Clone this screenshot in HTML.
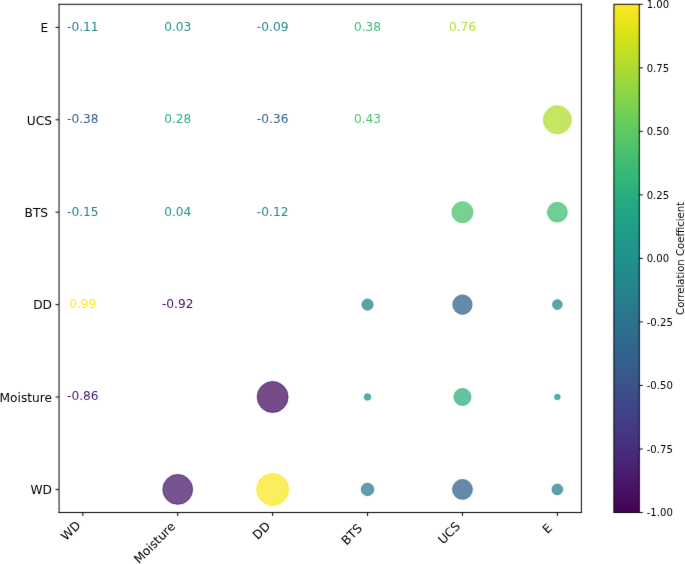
<!DOCTYPE html>
<html><head><meta charset="utf-8"><title>Correlation plot</title>
<style>html,body{margin:0;padding:0;background:#fff;}svg{display:block;}text{font-family:"DejaVu Sans","Liberation Sans",sans-serif;}</style>
</head><body>
<svg width="685" height="564" viewBox="0 0 685 564">
<defs><linearGradient id="g" x1="0" y1="1" x2="0" y2="0"><stop offset="0.0000" stop-color="#440154"/><stop offset="0.0312" stop-color="#470d60"/><stop offset="0.0625" stop-color="#48186a"/><stop offset="0.0938" stop-color="#482374"/><stop offset="0.1250" stop-color="#472d7b"/><stop offset="0.1562" stop-color="#453781"/><stop offset="0.1875" stop-color="#424086"/><stop offset="0.2188" stop-color="#3e4989"/><stop offset="0.2500" stop-color="#3b528b"/><stop offset="0.2812" stop-color="#375b8d"/><stop offset="0.3125" stop-color="#33638d"/><stop offset="0.3438" stop-color="#2f6b8e"/><stop offset="0.3750" stop-color="#2c728e"/><stop offset="0.4062" stop-color="#297a8e"/><stop offset="0.4375" stop-color="#26828e"/><stop offset="0.4688" stop-color="#23898e"/><stop offset="0.5000" stop-color="#21918c"/><stop offset="0.5312" stop-color="#1f988b"/><stop offset="0.5625" stop-color="#1fa088"/><stop offset="0.5938" stop-color="#22a785"/><stop offset="0.6250" stop-color="#28ae80"/><stop offset="0.6562" stop-color="#32b67a"/><stop offset="0.6875" stop-color="#3fbc73"/><stop offset="0.7188" stop-color="#4ec36b"/><stop offset="0.7500" stop-color="#5ec962"/><stop offset="0.7812" stop-color="#70cf57"/><stop offset="0.8125" stop-color="#84d44b"/><stop offset="0.8438" stop-color="#98d83e"/><stop offset="0.8750" stop-color="#addc30"/><stop offset="0.9062" stop-color="#c2df23"/><stop offset="0.9375" stop-color="#d8e219"/><stop offset="0.9688" stop-color="#ece51b"/><stop offset="1.0000" stop-color="#fde725"/></linearGradient></defs>
<filter id="bl" x="0" y="0" width="685" height="564" filterUnits="userSpaceOnUse" color-interpolation-filters="sRGB"><feConvolveMatrix order="3" kernelMatrix="0.01134 0.08382 0.01134 0.08382 0.61935 0.08382 0.01134 0.08382 0.01134" edgeMode="duplicate"/></filter><filter id="blt" x="0" y="0" width="685" height="564" filterUnits="userSpaceOnUse" color-interpolation-filters="sRGB"><feConvolveMatrix order="3" kernelMatrix="0.00276 0.04704 0.00276 0.04704 0.80077 0.04704 0.00276 0.04704 0.00276" edgeMode="duplicate"/></filter>
<g filter="url(#bl)">
<rect x="0" y="0" width="685" height="564" fill="#ffffff"/>
<rect x="613.90" y="4.30" width="25.40" height="508.20" fill="url(#g)"/>
<circle cx="177.71" cy="489.40" r="14.883" fill="#481a6c" fill-opacity="0.75" stroke="#481a6c" stroke-opacity="0.75" stroke-width="1.0"/>
<circle cx="272.63" cy="489.40" r="15.968" fill="#fbe723" fill-opacity="0.75" stroke="#fbe723" stroke-opacity="0.75" stroke-width="1.0"/>
<circle cx="367.54" cy="489.40" r="6.216" fill="#277e8e" fill-opacity="0.75" stroke="#277e8e" stroke-opacity="0.75" stroke-width="1.0"/>
<circle cx="462.46" cy="489.40" r="9.893" fill="#33628d" fill-opacity="0.75" stroke="#33628d" stroke-opacity="0.75" stroke-width="1.0"/>
<circle cx="557.37" cy="489.40" r="5.323" fill="#26828e" fill-opacity="0.75" stroke="#26828e" stroke-opacity="0.75" stroke-width="1.0"/>
<circle cx="272.63" cy="397.00" r="15.393" fill="#471063" fill-opacity="0.75" stroke="#471063" stroke-opacity="0.75" stroke-width="1.0"/>
<circle cx="367.54" cy="397.00" r="3.210" fill="#1f958b" fill-opacity="0.75" stroke="#1f958b" stroke-opacity="0.75" stroke-width="1.0"/>
<circle cx="462.46" cy="397.00" r="8.492" fill="#2cb17e" fill-opacity="0.75" stroke="#2cb17e" stroke-opacity="0.75" stroke-width="1.0"/>
<circle cx="557.37" cy="397.00" r="2.780" fill="#20938c" fill-opacity="0.75" stroke="#20938c" stroke-opacity="0.75" stroke-width="1.0"/>
<circle cx="367.54" cy="304.60" r="5.559" fill="#26828e" fill-opacity="0.75" stroke="#26828e" stroke-opacity="0.75" stroke-width="1.0"/>
<circle cx="462.46" cy="304.60" r="9.629" fill="#32648e" fill-opacity="0.75" stroke="#32648e" stroke-opacity="0.75" stroke-width="1.0"/>
<circle cx="557.37" cy="304.60" r="4.815" fill="#25858e" fill-opacity="0.75" stroke="#25858e" stroke-opacity="0.75" stroke-width="1.0"/>
<circle cx="462.46" cy="212.20" r="10.524" fill="#4cc26c" fill-opacity="0.75" stroke="#4cc26c" stroke-opacity="0.75" stroke-width="1.0"/>
<circle cx="557.37" cy="212.20" r="9.893" fill="#3fbc73" fill-opacity="0.75" stroke="#3fbc73" stroke-opacity="0.75" stroke-width="1.0"/>
<circle cx="557.37" cy="119.80" r="13.991" fill="#b0dd2f" fill-opacity="0.75" stroke="#b0dd2f" stroke-opacity="0.75" stroke-width="1.0"/>
<path d="M59.05 512.5V4.3M581.4 512.5V4.3M59.05 4.3H581.4M59.05 512.5H581.4" stroke="#000" stroke-width="1.0" fill="none" stroke-linecap="square"/>
<path d="M82.80 512.5v3.5M177.71 512.5v3.5M272.63 512.5v3.5M367.54 512.5v3.5M462.46 512.5v3.5M557.37 512.5v3.5M59.05 489.40h-3.5M59.05 397.00h-3.5M59.05 304.60h-3.5M59.05 212.20h-3.5M59.05 119.80h-3.5M59.05 27.40h-3.5" stroke="#000" stroke-width="1.0" fill="none"/>
<rect x="613.9" y="4.3" width="25.40" height="508.20" stroke="#000" stroke-width="1.0" fill="none"/>
<path d="M639.3 512.50h3.5M639.3 448.98h3.5M639.3 385.45h3.5M639.3 321.93h3.5M639.3 258.40h3.5M639.3 194.88h3.5M639.3 131.35h3.5M639.3 67.83h3.5M639.3 4.30h3.5" stroke="#000" stroke-width="1.0" fill="none"/>
</g>
<g filter="url(#blt)">
<text font-size="12.2" transform="translate(66.110 541.271) rotate(-45)" xml:space="preserve">WD</text>
<text font-size="12.2" transform="translate(138.935 564.261) rotate(-45)" xml:space="preserve">Moisture</text>
<text font-size="12.2" transform="translate(257.796 540.215) rotate(-45)" xml:space="preserve">DD</text>
<text font-size="12.2" transform="translate(346.390 545.635) rotate(-45)" xml:space="preserve">BTS </text>
<text font-size="12.2" transform="translate(443.170 544.770) rotate(-45)" xml:space="preserve">UCS</text>
<text font-size="12.2" transform="translate(547.548 534.306) rotate(-45)" xml:space="preserve">E </text>
<text font-size="12.2" text-anchor="end" x="51.97" y="494.159" xml:space="preserve">WD</text>
<text font-size="12.2" text-anchor="end" x="51.97" y="401.759" xml:space="preserve">Moisture</text>
<text font-size="12.2" text-anchor="end" x="51.97" y="309.359" xml:space="preserve">DD</text>
<text font-size="12.2" text-anchor="end" x="51.97" y="216.959" xml:space="preserve">BTS </text>
<text font-size="12.2" text-anchor="end" x="51.97" y="124.559" xml:space="preserve">UCS</text>
<text font-size="12.2" text-anchor="end" x="51.97" y="32.159" xml:space="preserve">E </text>
<text font-size="12.2" text-anchor="middle" fill="#481a6c" transform="translate(82.799 400.261) scale(1 1.05)" xml:space="preserve">-0.86</text>
<text font-size="12.2" text-anchor="middle" fill="#fbe723" transform="translate(82.799 307.561) scale(1 1.05)" xml:space="preserve">0.99</text>
<text font-size="12.2" text-anchor="middle" fill="#471063" transform="translate(177.713 307.561) scale(1 1.05)" xml:space="preserve">-0.92</text>
<text font-size="12.2" text-anchor="middle" fill="#277e8e" transform="translate(82.799 215.661) scale(1 1.05)" xml:space="preserve">-0.15</text>
<text font-size="12.2" text-anchor="middle" fill="#1f958b" transform="translate(177.713 215.661) scale(1 1.05)" xml:space="preserve">0.04</text>
<text font-size="12.2" text-anchor="middle" fill="#26828e" transform="translate(272.628 215.661) scale(1 1.05)" xml:space="preserve">-0.12</text>
<text font-size="12.2" text-anchor="middle" fill="#33628d" transform="translate(82.799 122.761) scale(1 1.05)" xml:space="preserve">-0.38</text>
<text font-size="12.2" text-anchor="middle" fill="#2cb17e" transform="translate(177.713 122.761) scale(1 1.05)" xml:space="preserve">0.28</text>
<text font-size="12.2" text-anchor="middle" fill="#32648e" transform="translate(272.628 122.761) scale(1 1.05)" xml:space="preserve">-0.36</text>
<text font-size="12.2" text-anchor="middle" fill="#4cc26c" transform="translate(367.542 122.761) scale(1 1.05)" xml:space="preserve">0.43</text>
<text font-size="12.2" text-anchor="middle" fill="#26828e" transform="translate(82.799 30.761) scale(1 1.05)" xml:space="preserve">-0.11</text>
<text font-size="12.2" text-anchor="middle" fill="#20938c" transform="translate(177.713 30.761) scale(1 1.05)" xml:space="preserve">0.03</text>
<text font-size="12.2" text-anchor="middle" fill="#25858e" transform="translate(272.628 30.761) scale(1 1.05)" xml:space="preserve">-0.09</text>
<text font-size="12.2" text-anchor="middle" fill="#3fbc73" transform="translate(367.542 30.761) scale(1 1.05)" xml:space="preserve">0.38</text>
<text font-size="12.2" text-anchor="middle" fill="#b0dd2f" transform="translate(462.457 30.761) scale(1 1.05)" xml:space="preserve">0.76</text>
<text font-size="10.1" x="646.70" y="516.299219" xml:space="preserve">-1.00</text>
<text font-size="10.1" x="646.70" y="452.774219" xml:space="preserve">-0.75</text>
<text font-size="10.1" x="646.70" y="389.249219" xml:space="preserve">-0.50</text>
<text font-size="10.1" x="646.70" y="325.724219" xml:space="preserve">-0.25</text>
<text font-size="10.1" x="646.70" y="262.199219" xml:space="preserve">0.00</text>
<text font-size="10.1" x="646.70" y="198.674219" xml:space="preserve">0.25</text>
<text font-size="10.1" x="646.70" y="135.149219" xml:space="preserve">0.50</text>
<text font-size="10.1" x="646.70" y="71.624219" xml:space="preserve">0.75</text>
<text font-size="10.1" x="646.70" y="8.099219" xml:space="preserve">1.00</text>
<text font-size="10.1" text-anchor="middle" x="684.372" y="258.4" transform="rotate(-90 684.372 258.4)" xml:space="preserve">Correlation Coefficient</text>
</g>
</svg>
</body></html>
